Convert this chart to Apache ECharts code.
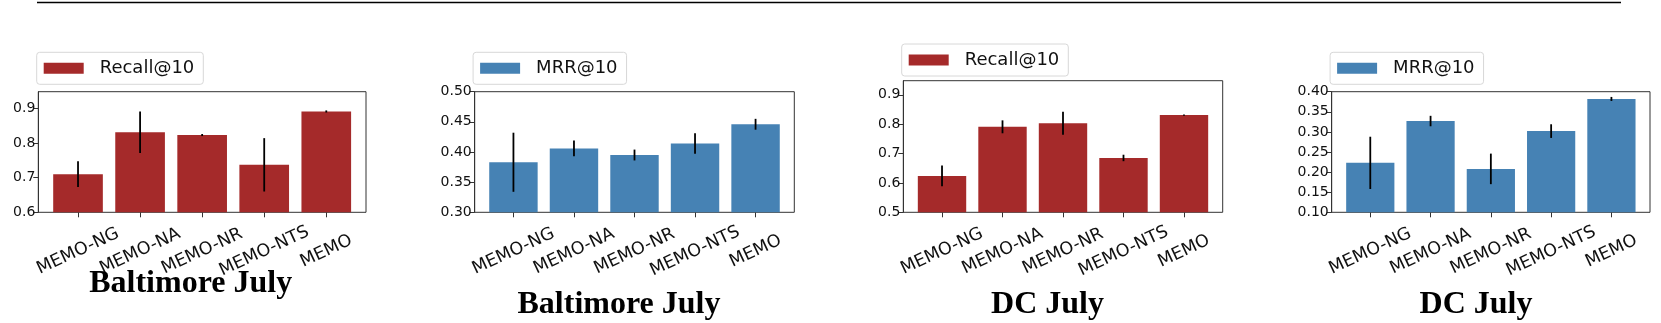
<!DOCTYPE html>
<html>
<head>
<meta charset="utf-8">
<script src="https://cdn.jsdelivr.net/npm/echarts@6/dist/echarts.min.js"></script>
<style>
  html, body { margin: 0; padding: 0; background: #fff; }
  #chart { width: 1661px; height: 323px; }
</style>
</head>
<body>
<div id="chart"></div>
<script>
const categories = ['MEMO-NG', 'MEMO-NA', 'MEMO-NR', 'MEMO-NTS', 'MEMO']

// Baltimore July
const balRecall = [0.710, 0.831, 0.823, 0.737, 0.891]
const balRecallErr = [0.037, 0.060, 0.003, 0.077, 0.003]
const balMrr = [0.383, 0.406, 0.395, 0.414, 0.446]
const balMrrErr = [0.049, 0.013, 0.009, 0.017, 0.009]

// DC July
const dcRecall = [0.624, 0.791, 0.803, 0.685, 0.831]
const dcRecallErr = [0.035, 0.022, 0.039, 0.011, 0.002]
const dcMrr = [0.223, 0.327, 0.208, 0.302, 0.382]
const dcMrrErr = [0.065, 0.013, 0.038, 0.017, 0.005]

// tick labels
const recallTicks = [0.5, 0.6, 0.7, 0.8, 0.9]
const balMrrTicks = [0.30, 0.35, 0.40, 0.45, 0.50]
const dcMrrTicks = [0.10, 0.15, 0.20, 0.25, 0.30, 0.35, 0.40]

const titles = ['Baltimore July', 'Baltimore July', 'DC July', 'DC July']

const RED = '#a52a2a'
const BLUE = '#4682b4'

// panel layout (frame box in pixels)
const panels = [
  { name: 'Recall@10', color: RED, values: balRecall, errs: balRecallErr, min: 0.6, max: 0.948, ticks: recallTicks.filter(t => t >= 0.6), dec: 1,
    left: 38.3, right: 366, top: 91.7, bottom: 212.3, legendTop: 52.3, titleX: 190.7, titleTop: 268 },
  { name: 'MRR@10', color: BLUE, values: balMrr, errs: balMrrErr, min: 0.3, max: 0.5, ticks: balMrrTicks, dec: 2,
    left: 474.7, right: 794.3, top: 91.7, bottom: 212.3, legendTop: 52.3, titleX: 619, titleTop: 289 },
  { name: 'Recall@10', color: RED, values: dcRecall, errs: dcRecallErr, min: 0.5, max: 0.948, ticks: recallTicks, dec: 1,
    left: 903.3, right: 1222.7, top: 80.7, bottom: 212.3, legendTop: 44, titleX: 1047.5, titleTop: 289 },
  { name: 'MRR@10', color: BLUE, values: dcMrr, errs: dcMrrErr, min: 0.1, max: 0.4, ticks: dcMrrTicks, dec: 2,
    left: 1331.7, right: 1650, top: 91.7, bottom: 212.3, legendTop: 52.3, titleX: 1476, titleTop: 289 },
]

const grid = [], xAxis = [], yAxis = [], series = [], legend = [], title = []

panels.forEach((p, i) => {
  const w = p.right - p.left
  const s = w / 5.28 // one category step, matplotlib margins
  const fi = 2 * i, bi = 2 * i + 1
  // frame grid
  grid.push({ left: p.left, top: p.top, width: w, height: p.bottom - p.top,
    show: true, borderColor: '#333', borderWidth: 1, backgroundColor: 'transparent',
    containLabel: false, outerBoundsMode: 'none' })
  // bar grid
  grid.push({ left: p.left + 0.14 * s, top: p.top, width: 5 * s, height: p.bottom - p.top,
    containLabel: false, outerBoundsMode: 'none' })

  xAxis.push({ type: 'value', gridIndex: fi, show: false, min: 0, max: 1 })
  xAxis.push({
    type: 'category', gridIndex: bi, data: categories,
    axisLine: { show: false },
    axisTick: { show: true, alignWithLabel: true, length: 5, lineStyle: { color: '#333' } },
    axisLabel: { interval: 0, rotate: 25, align: 'center', verticalAlign: 'middle', margin: 39,
      fontSize: 17.5, color: '#111', fontFamily: 'DejaVu Sans' },
  })

  yAxis.push({
    type: 'value', gridIndex: fi, min: p.min, max: p.max,
    splitLine: { show: false },
    axisLine: { show: true, lineStyle: { color: '#333' } },
    axisTick: { show: true, length: 5, customValues: p.ticks, lineStyle: { color: '#333' } },
    axisLabel: { customValues: p.ticks, formatter: v => v.toFixed(p.dec), margin: 3,
      fontSize: 14, color: '#111', fontFamily: 'DejaVu Sans' },
  })
  yAxis.push({ type: 'value', gridIndex: bi, min: p.min, max: p.max, show: false })

  series.push({
    name: p.name, type: 'bar', xAxisIndex: bi, yAxisIndex: bi,
    barWidth: '80%', itemStyle: { color: p.color },
    data: p.values,
  })
  series.push({
    name: 'err' + i, type: 'custom', xAxisIndex: bi, yAxisIndex: bi, z: 5,
    data: p.values.map((v, k) => [k, v, p.errs[k]]),
    encode: { x: 0, y: 1 },
    renderItem: function (params, api) {
      const x = api.value(0), v = api.value(1), e = api.value(2)
      const a = api.coord([x, v + e]), b = api.coord([x, v - e])
      return { type: 'line', shape: { x1: a[0], y1: a[1], x2: b[0], y2: b[1] },
        style: { stroke: '#000', lineWidth: 1.8 } }
    },
  })

  legend.push({
    data: [p.name], left: p.left - 1.6, top: p.legendTop, orient: 'horizontal',
    itemWidth: 40, itemHeight: 11, icon: 'rect',
    padding: [7, 9, 7, 7], borderColor: '#d8d8d8', borderWidth: 1, borderRadius: 3,
    selectedMode: false,
    textStyle: { fontSize: 18, color: '#111', fontFamily: 'DejaVu Sans', padding: [0, 0, 0, 11] },
  })

  title.push({
    text: titles[i], left: p.titleX, top: p.titleTop, textAlign: 'center', padding: 0,
    textStyle: { fontFamily: 'Liberation Serif', fontWeight: 'bold', fontSize: 32, color: '#000' },
  })
})

const myChart = echarts.init(document.getElementById('chart'), null, { renderer: 'canvas' })
const option = {
  backgroundColor: '#fff',
  animation: false,
  title: title,
  legend: legend,
  grid: grid,
  xAxis: xAxis,
  yAxis: yAxis,
  series: series,
  graphic: [
    // rule across the top of the figure
    { type: 'line', shape: { x1: 37, y1: 2.5, x2: 1621, y2: 2.5 }, style: { stroke: '#000', lineWidth: 1.5 } },
  ],
}
option && myChart.setOption(option)
window.addEventListener('resize', function () {
  myChart.resize()
})
</script>
</body>
</html>
